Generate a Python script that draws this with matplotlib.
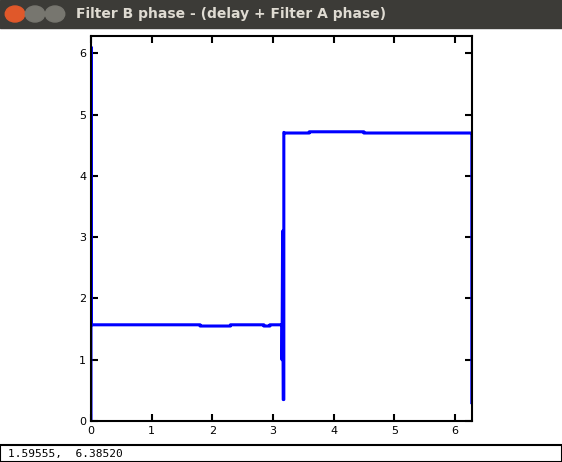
import matplotlib
matplotlib.use("Agg")
import matplotlib.pyplot as plt
from matplotlib.patches import Rectangle, Circle

x = [0.0, 0.0, 0.0, 0.02, 1.8, 1.8, 2.3, 2.3, 2.85, 2.85, 2.95, 2.95, 3.15, 3.15, 3.16, 3.17, 3.18, 3.18,
     3.19, 3.6, 3.6, 4.5, 4.5, 6.27, 6.28, 6.28]
y = [0.0, 6.1, 1.6, 1.57, 1.57, 1.55, 1.55, 1.57, 1.57, 1.55, 1.55, 1.57, 1.57, 1.0, 3.1, 0.35, 0.35, 4.71,
     4.70, 4.70, 4.72, 4.72, 4.70, 4.70, 4.70, 0.3]
xticks = [0, 1, 2, 3, 4, 5, 6]
yticks = [0, 1, 2, 3, 4, 5, 6]

W, H = 562, 462
fig = plt.figure(figsize=(W/100, H/100), dpi=100)
fig.patch.set_facecolor("white")
fig.add_artist(Rectangle((0, 1-28/H), 1, 28/H, transform=fig.transFigure, color="#3c3b37", zorder=0))
for cx, c in [(15, "#e0582a"), (35, "#77766f"), (55, "#77766f")]:
    fig.add_artist(Circle((cx/W, 1-14/H), 8/H, transform=fig.transFigure, color=c, zorder=1))
fig.text(76/W, 1-14/H, "Filter B phase - (delay + Filter A phase)", color="#dfdbd2",
         fontsize=10, fontweight="bold", ha="left", va="center")
fig.add_artist(Rectangle((0, 0), 1, 17/H, transform=fig.transFigure, facecolor="white",
                         edgecolor="black", lw=1.5))
fig.text(8/W, 8/H, "1.59555,  6.38520", fontsize=8, family="DejaVu Sans Mono", va="center")

ax = fig.add_axes([91/W, (H-421)/H, (472-91)/W, (421-36)/H])
ax.plot(x, y, color="#0000ff", lw=2.2)
ax.set_xlim(0, 6.2832)
ax.set_ylim(0, 6.2832)
ax.set_xticks(xticks)
ax.set_yticks(yticks)
ax.tick_params(direction="in", length=5, width=1.5, labelsize=8, top=True, right=True,
               labeltop=False, labelright=False)
for s in ax.spines.values():
    s.set_linewidth(1.5)
fig.savefig("out.png", dpi=100)
